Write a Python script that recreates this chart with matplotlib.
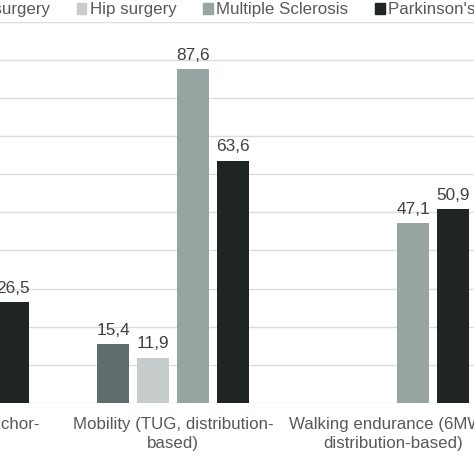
import numpy as np
import matplotlib
matplotlib.use("Agg")
import matplotlib.pyplot as plt
from matplotlib.patches import Patch

# data
categories = ["Balance (BBS, anchor-\nbased)",
              "Mobility (TUG, distribution-\nbased)",
              "Walking endurance (6MWT,\ndistribution-based)"]
series_names = ["Knee surgery", "Hip surgery", "Multiple Sclerosis", "Parkinson's disease"]
knee = [np.nan, 15.4, np.nan]
hip = [np.nan, 11.9, np.nan]
ms = [np.nan, 87.6, 47.1]
pd_vals = [26.5, 63.6, 50.9]
colors = ["#5f6e6c", "#c5cccb", "#97a4a2", "#1f2424"]

plt.rcParams['font.family'] = ['Liberation Sans', 'DejaVu Sans']
FS = 12.2

fig = plt.figure(figsize=(4.74, 4.74), dpi=100)
ax = fig.add_axes([-0.3312, 0.150, 1.3924, 0.804])

x = np.arange(len(categories))
step = 0.1818
width = 0.143
for i, (vals, col) in enumerate(zip([knee, hip, ms, pd_vals], colors)):
    pos = x + (i - 1.5) * step
    ax.bar(pos, vals, width=width, color=col, zorder=3)
    for p, v in zip(pos, vals):
        if np.isnan(v):
            continue
        ax.annotate(f"{v:.1f}".replace(".", ","), (p, v),
                    xytext=(0, 4.5), textcoords="offset points",
                    ha="center", va="bottom", fontsize=12.4, color="#404040")

ax.set_xlim(-0.5, 2.5)
ax.set_ylim(0, 100)
ax.set_yticks(np.arange(0, 101, 10))
ax.yaxis.grid(True, color="#dcdcdc", linewidth=1.0, zorder=0)
ax.set_axisbelow(True)
for s in ax.spines.values():
    s.set_visible(False)
ax.set_xticks(x)
ax.set_xticklabels(categories, fontsize=FS, color="#595959", linespacing=1.35)
ax.tick_params(axis="x", length=0, pad=10)
ax.tick_params(axis="y", length=0, labelleft=False)

handles = [Patch(color=c) for c in colors]
fig.legend(handles, series_names, loc="center left",
           bbox_to_anchor=(-0.135, 0.979), ncol=4, frameon=False,
           fontsize=FS, labelcolor="#595959", handlelength=0.55,
           handleheight=0.55, handletextpad=0.2, columnspacing=1.6,
           borderpad=0, borderaxespad=0)

fig.savefig("out.png", dpi=100)
